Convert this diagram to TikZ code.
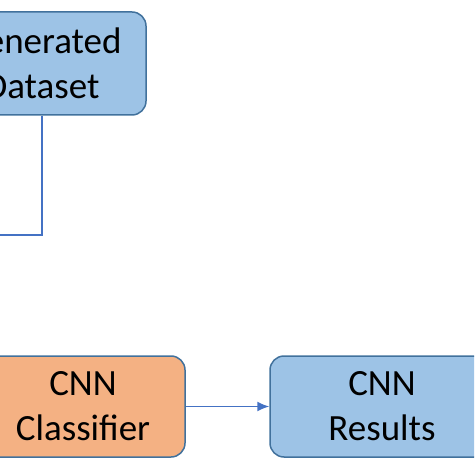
\documentclass[tikz,border=0pt]{standalone}
\usepackage{fontspec}
\setmainfont{Carlito}
\usetikzlibrary{arrows.meta}

\definecolor{boxblue}{HTML}{9DC3E6}
\definecolor{boxorange}{HTML}{F4B183}
\definecolor{edgeblue}{HTML}{41719C}
\definecolor{linkblue}{HTML}{4472C4}

\tikzset{
  block/.style={draw=edgeblue, line width=.75pt, rounded corners=7pt, align=center,
    font=\fontsize{18.5}{22.5}\selectfont, minimum height=50.5pt, inner sep=0pt},
  link/.style={draw=linkblue, line width=.75pt}
}

\begin{document}
\begin{tikzpicture}[x=.5pt,y=-.5pt,>={Latex[length=6pt,width=5pt]}]
    \useasboundingbox (0,0) rectangle (474,474);
    \clip (0,0) rectangle (474,474);

    \node[block, fill=boxblue, minimum width=104pt, minimum height=51.5pt] (gen) at (42,63.5) {Generated\\Dataset};
    \node[block, fill=boxorange, minimum width=102pt] (cls) at (83,406.5) {CNN\\Classifier};
    \node[block, fill=boxblue, minimum width=112pt] (res) at (382,406.5) {CNN\\Results};

    \coordinate (off) at (-30,235);
    \draw[link] (gen) |- (off);
    \draw[link,->] (cls) -- (res);
\end{tikzpicture}
\end{document}
